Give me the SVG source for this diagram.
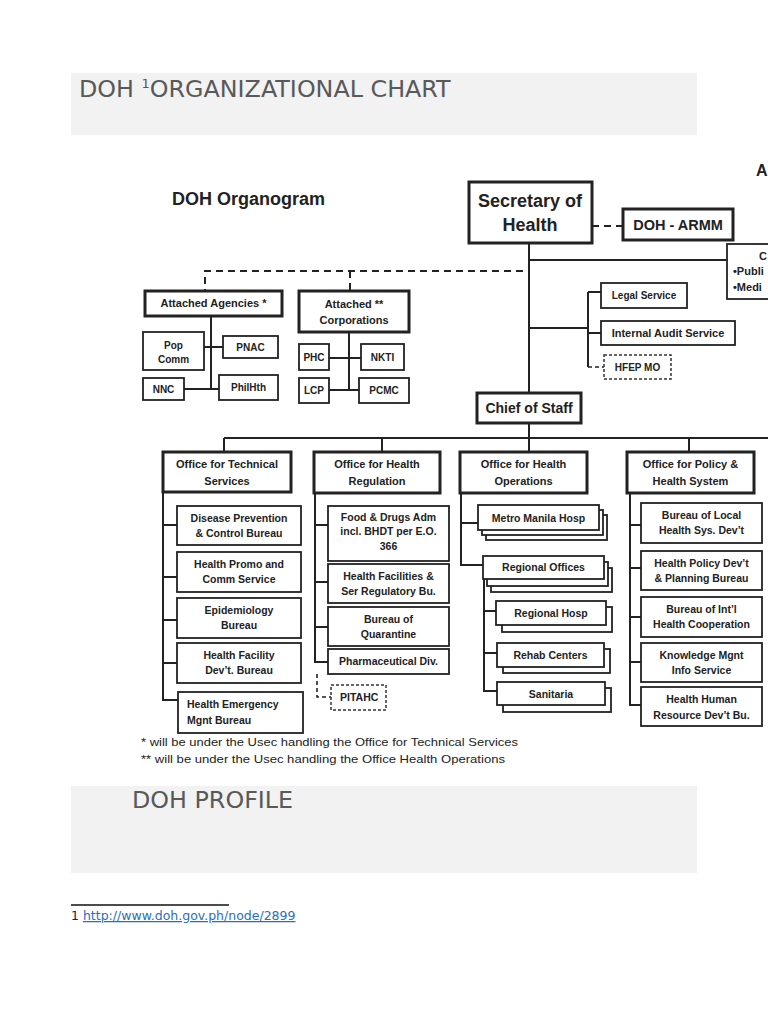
<svg xmlns="http://www.w3.org/2000/svg" width="768" height="1024" viewBox="0 0 768 1024">
<style>
.band{fill:#f2f2f2}
.hd{font-family:"DejaVu Sans",sans-serif;fill:#595959;font-size:23.8px}
.box{fill:#fff;stroke:#222;stroke-width:1.8}
.thick{stroke-width:3}
.dbox{fill:#fff;stroke:#333;stroke-width:1.5;stroke-dasharray:3 2}
.t{font-family:"Liberation Sans",Arial,sans-serif;font-weight:bold;fill:#222;text-anchor:middle;font-size:10.5px}
.s11{font-size:11px}
.s10{font-size:10px}
.s18{font-size:18px}
.s14{font-size:14px}
.s145{font-size:14.5px}
.l{text-anchor:start}
.c{fill:none;stroke:#222;stroke-width:2}
.cd{fill:none;stroke:#222;stroke-width:2;stroke-dasharray:7 5}
.cds{fill:none;stroke:#222;stroke-width:1.6;stroke-dasharray:4 3}
.fn{font-family:"Liberation Sans",Arial,sans-serif;fill:#222;font-size:11.5px}
</style>
<rect width="768" height="1024" fill="#fff"/>
<rect class="band" x="71" y="73" width="626" height="62"/>
<text class="hd" x="79" y="97">DOH <tspan font-size="13" dy="-9">1</tspan><tspan dy="9">ORGANIZATIONAL CHART</tspan></text>

<text x="172" y="205" font-family="Liberation Sans,Arial,sans-serif" font-weight="bold" font-size="18" fill="#222">DOH Organogram</text>
<text x="756" y="176" font-family="Liberation Sans,Arial,sans-serif" font-weight="bold" font-size="16" fill="#222">A</text>

<g id="connectors">
<path class="c" d="M529 243V393M529 423V438M224 438H768M224 438V452M382 438V452M529 438V452M689 438V452"/>
<path class="c" d="M529 260H727M529 328H588M588 292V367M588 292H601M588 333H601"/>
<path class="cds" d="M588 367H604"/>
<path class="cd" d="M592 226H623M523 271H205V291M350 271V291"/>
<path class="c" d="M211 316V389M204 347H223M184 389H219"/>
<path class="c" d="M349 332V390M329 358H361M329 390H359"/>
<path class="c" d="M163 492V700H178M163 525H177M163 577H177M163 620H177M163 663H177"/>
<path class="c" d="M315 493V662H328M315 525H328M315 582H328M315 627H328"/>
<path class="cds" d="M317 674V697H331"/>
<path class="c" d="M461 493V565H483M461 523H478M484 579V691H497M484 611H496M484 653H497"/>
<path class="c" d="M630 493V705H641M630 525H641M630 568H641M630 617H641M630 662H641"/>
</g>

<g id="secretary"><rect class="box thick" x="469" y="182" width="123" height="61"/><text class="t s18" x="530" y="207">Secretary of</text><text class="t s18" x="530" y="231">Health</text></g>
<g id="armm"><rect class="box thick" x="623" y="209" width="110" height="31"/><text class="t s145" x="678" y="230">DOH - ARMM</text></g>
<g id="right-box"><rect class="box" x="727" y="244" width="60" height="55"/><text class="t s11 l" x="759" y="260">C</text><text class="t s11 l" x="733" y="275">•Publi</text><text class="t s11 l" x="733" y="291">•Medi</text></g>

<g id="attached-agencies"><rect class="box thick" x="145" y="291" width="137" height="25"/><text class="t s11" x="213.5" y="307">Attached Agencies *</text></g>
<g id="attached-corporations"><rect class="box thick" x="299" y="291" width="110" height="41"/><text class="t s11" x="354" y="308">Attached **</text><text class="t s11" x="354" y="324">Corporations</text></g>
<g id="popcomm"><rect class="box" x="143" y="332" width="61" height="38"/><text class="t s10" x="173.5" y="349">Pop</text><text class="t s10" x="173.5" y="363">Comm</text></g>
<g id="pnac"><rect class="box" x="223" y="336" width="55" height="22"/><text class="t s10" x="250.5" y="351">PNAC</text></g>
<g id="nnc"><rect class="box" x="143" y="378" width="41" height="22"/><text class="t s10" x="163.5" y="393">NNC</text></g>
<g id="philhth"><rect class="box" x="219" y="375" width="59" height="25"/><text class="t s10" x="248.5" y="391">PhilHth</text></g>
<g id="phc"><rect class="box" x="299" y="344" width="30" height="26"/><text class="t s10" x="314" y="361">PHC</text></g>
<g id="nkti"><rect class="box" x="361" y="344" width="43" height="26"/><text class="t s10" x="382.5" y="361">NKTI</text></g>
<g id="lcp"><rect class="box" x="299" y="378" width="30" height="25"/><text class="t s10" x="314" y="394">LCP</text></g>
<g id="pcmc"><rect class="box" x="359" y="378" width="50" height="25"/><text class="t s10" x="384" y="394">PCMC</text></g>

<g id="legal"><rect class="box" x="601" y="283" width="86" height="25"/><text class="t s10" x="644" y="299">Legal Service</text></g>
<g id="audit"><rect class="box" x="601" y="321" width="134" height="24"/><text class="t s11" x="668" y="337">Internal Audit Service</text></g>
<g id="hfep"><rect class="dbox" x="604" y="355" width="67" height="24"/><text class="t s10" x="637.5" y="371">HFEP MO</text></g>

<g id="chief"><rect class="box thick" x="477" y="393" width="104" height="30"/><text class="t s14" x="529" y="413">Chief of Staff</text></g>

<g id="ots"><rect class="box thick" x="163" y="452" width="128" height="40"/><text class="t s11" x="227" y="468">Office for Technical</text><text class="t s11" x="227" y="485">Services</text></g>
<g id="ohr"><rect class="box thick" x="314" y="452" width="126" height="41"/><text class="t s11" x="377" y="468">Office for Health</text><text class="t s11" x="377" y="485">Regulation</text></g>
<g id="oho"><rect class="box thick" x="460" y="452" width="127" height="41"/><text class="t s11" x="523.5" y="468">Office for Health</text><text class="t s11" x="523.5" y="485">Operations</text></g>
<g id="ophs"><rect class="box thick" x="627" y="452" width="127" height="41"/><text class="t s11" x="690.5" y="468">Office for Policy &amp;</text><text class="t s11" x="690.5" y="485">Health System</text></g>

<g id="dpcb"><rect class="box" x="177" y="506" width="124" height="39"/><text class="t" x="239" y="522">Disease Prevention</text><text class="t" x="239" y="537">&amp; Control Bureau</text></g>
<g id="hpcs"><rect class="box" x="177" y="552" width="124" height="40"/><text class="t" x="239" y="568">Health Promo and</text><text class="t" x="239" y="583">Comm Service</text></g>
<g id="epi"><rect class="box" x="177" y="598" width="124" height="40"/><text class="t" x="239" y="614">Epidemiology</text><text class="t" x="239" y="629">Bureau</text></g>
<g id="hfdb"><rect class="box" x="177" y="643" width="124" height="40"/><text class="t" x="239" y="659">Health Facility</text><text class="t" x="239" y="674">Dev’t.  Bureau</text></g>
<g id="hemb"><rect class="box" x="178" y="692" width="125" height="41"/><text class="t l" x="187" y="708">Health Emergency</text><text class="t l" x="187" y="724">Mgnt Bureau</text></g>

<g id="fda"><rect class="box" x="328" y="506" width="121" height="55"/><text class="t" x="388.5" y="521">Food &amp; Drugs Adm</text><text class="t" x="388.5" y="535">incl. BHDT per E.O.</text><text class="t" x="388.5" y="550">366</text></g>
<g id="hfsrb"><rect class="box" x="328" y="564" width="121" height="39"/><text class="t" x="388.5" y="580">Health Facilities &amp;</text><text class="t" x="388.5" y="595">Ser Regulatory Bu.</text></g>
<g id="boq"><rect class="box" x="328" y="607" width="121" height="39"/><text class="t" x="388.5" y="623">Bureau of</text><text class="t" x="388.5" y="638">Quarantine</text></g>
<g id="pharma"><rect class="box" x="328" y="649" width="121" height="25"/><text class="t" x="388.5" y="665">Pharmaceutical Div.</text></g>
<g id="pitahc"><rect class="dbox" x="331" y="685" width="55" height="25"/><text class="t l" x="340" y="701">PITAHC</text></g>

<g id="mmh"><rect class="box" x="486" y="515" width="121" height="25"/><rect class="box" x="482" y="510" width="121" height="25"/><rect class="box" x="478" y="505" width="121" height="25"/><text class="t" x="538.5" y="522">Metro Manila Hosp</text></g>
<g id="ro"><rect class="box" x="491" y="568" width="121" height="24"/><rect class="box" x="487" y="562" width="121" height="24"/><rect class="box" x="483" y="556" width="121" height="23"/><text class="t" x="543.5" y="571">Regional Offices</text></g>
<g id="rh"><rect class="box" x="502" y="607" width="110" height="25"/><rect class="box" x="496" y="601" width="110" height="24"/><text class="t" x="551" y="617">Regional Hosp</text></g>
<g id="rc"><rect class="box" x="503" y="649" width="107" height="24"/><rect class="box" x="497" y="643" width="107" height="24"/><text class="t" x="550.5" y="659">Rehab Centers</text></g>
<g id="san"><rect class="box" x="503" y="688" width="108" height="24"/><rect class="box" x="497" y="682" width="108" height="23"/><text class="t" x="551" y="698">Sanitaria</text></g>

<g id="blhsd"><rect class="box" x="641" y="503" width="121" height="40"/><text class="t" x="701.5" y="519">Bureau of Local</text><text class="t" x="701.5" y="534">Health Sys. Dev’t</text></g>
<g id="hpdpb"><rect class="box" x="641" y="551" width="121" height="39"/><text class="t" x="701.5" y="567">Health Policy Dev’t</text><text class="t" x="701.5" y="582">&amp; Planning Bureau</text></g>
<g id="bihc"><rect class="box" x="641" y="597" width="121" height="40"/><text class="t" x="701.5" y="613">Bureau of Int’l</text><text class="t" x="701.5" y="628">Health Cooperation</text></g>
<g id="kmis"><rect class="box" x="641" y="643" width="121" height="39"/><text class="t" x="701.5" y="659">Knowledge Mgnt</text><text class="t" x="701.5" y="674">Info Service</text></g>
<g id="hhrdb"><rect class="box" x="641" y="687" width="121" height="39"/><text class="t" x="701.5" y="703">Health Human</text><text class="t" x="701.5" y="719">Resource Dev’t Bu.</text></g>

<text class="fn" x="141" y="746" textLength="377" lengthAdjust="spacingAndGlyphs">* will be under the Usec handling the Office for Technical  Services</text>
<text class="fn" x="141" y="763" textLength="364" lengthAdjust="spacingAndGlyphs">** will be under the Usec handling the Office Health Operations</text>

<rect class="band" x="71" y="786" width="626" height="87"/>
<text class="hd" x="132" y="808">DOH PROFILE</text>

<line x1="71" y1="905" x2="229" y2="905" stroke="#111" stroke-width="1.5"/>
<text x="71" y="920" font-family="DejaVu Sans,sans-serif" font-size="12.5" fill="#222">1 <tspan fill="#2a6ebb" text-decoration="underline">http://www.doh.gov.ph/node/2899</tspan></text>
</svg>
